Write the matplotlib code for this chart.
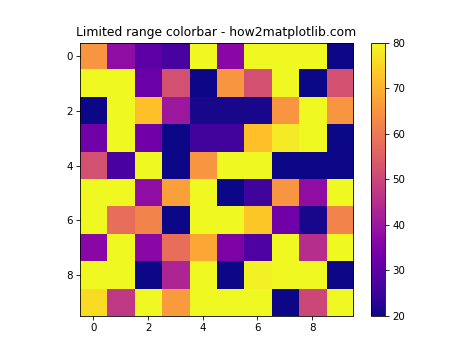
import numpy as np
import matplotlib
matplotlib.use("Agg")
import matplotlib.pyplot as plt

row0 = [65, 38, 30, 27, 80, 37, 80, 80, 80, 20]
row1 = [80, 80, 32, 52, 20, 65, 52, 80, 20, 52]
row2 = [20, 80, 72, 40, 21, 21, 21, 65, 80, 65]
row3 = [33, 80, 33, 20, 26, 26, 72, 78, 80, 20]
row4 = [52, 27, 80, 20, 65, 80, 80, 20, 20, 20]
row5 = [80, 80, 38, 67, 80, 20, 26, 65, 38, 80]
row6 = [80, 58, 62, 20, 80, 80, 73, 33, 21, 62]
row7 = [37, 80, 37, 58, 68, 35, 28, 80, 45, 80]
row8 = [80, 80, 20, 43, 80, 20, 79, 80, 80, 20]
row9 = [76, 47, 80, 66, 80, 80, 80, 20, 50, 80]

data = np.array([row0, row1, row2, row3, row4, row5, row6, row7, row8, row9])

fig = plt.figure(figsize=(474/74, 355/74), dpi=74)
im = plt.imshow(data, cmap='plasma', vmin=20, vmax=80)
plt.colorbar(im)
plt.title('Limited range colorbar - how2matplotlib.com')
plt.savefig('out.png', dpi=74)
